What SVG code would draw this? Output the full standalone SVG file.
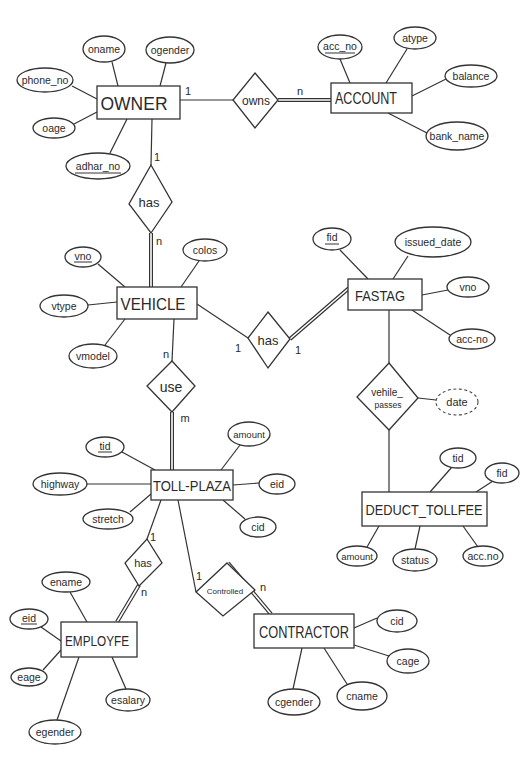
<svg xmlns="http://www.w3.org/2000/svg" width="525" height="777" viewBox="0 0 525 777">
<style>
text{font-family:"Liberation Sans",Arial,sans-serif;fill:#2a2a2a}
.ent rect{fill:#fff;stroke:#333;stroke-width:1.3}
.ent text{font-size:15px;text-anchor:middle;dominant-baseline:central}
.att ellipse{fill:#fff;stroke:#333;stroke-width:1.3}
.att text{font-size:10.5px;text-anchor:middle;dominant-baseline:central}
.der ellipse{fill:#fff;stroke:#444;stroke-width:1.1;stroke-dasharray:3 2.5}
.der text{font-size:11px;text-anchor:middle;dominant-baseline:central}
.rel polygon{fill:#fff;stroke:#333;stroke-width:1.3}
.rel text{font-size:12.5px;text-anchor:middle;dominant-baseline:central}
.ln{stroke:#333;stroke-width:1.2;fill:none}
.dbo{stroke:#333;stroke-width:4;fill:none}
.dbi{stroke:#fff;stroke-width:1.6;fill:none}
.card{font-size:11px;text-anchor:middle}
.ul{stroke:#333;stroke-width:1}
</style>
<rect width="525" height="777" fill="#fff"/>

<g id="connectors">
  <!-- OWNER attributes -->
  <line class="ln" x1="112" y1="62" x2="118" y2="86"/>
  <line class="ln" x1="166" y1="63" x2="160" y2="86"/>
  <line class="ln" x1="72" y1="86" x2="97" y2="99"/>
  <line class="ln" x1="74" y1="124" x2="97" y2="112"/>
  <line class="ln" x1="110" y1="153" x2="127" y2="119"/>
  <!-- OWNER - owns - ACCOUNT -->
  <line class="ln" x1="180" y1="100" x2="233" y2="100"/>
  <line class="dbo" x1="278" y1="100" x2="331" y2="100"/>
  <line class="dbi" x1="278" y1="100" x2="331" y2="100"/>
  <!-- ACCOUNT attributes -->
  <line class="ln" x1="340" y1="59" x2="350" y2="83"/>
  <line class="ln" x1="407" y1="49" x2="386" y2="83"/>
  <line class="ln" x1="446" y1="79" x2="412" y2="96"/>
  <line class="ln" x1="427" y1="133" x2="388" y2="113"/>
  <!-- OWNER - has - VEHICLE -->
  <line class="ln" x1="152" y1="119" x2="151" y2="165"/>
  <line class="dbo" x1="151" y1="233" x2="151" y2="287"/>
  <line class="dbi" x1="151" y1="233" x2="151" y2="287"/>
  <!-- VEHICLE attributes -->
  <line class="ln" x1="98" y1="264" x2="125" y2="287"/>
  <line class="ln" x1="199" y1="261" x2="181" y2="287"/>
  <line class="ln" x1="88" y1="305" x2="117" y2="302"/>
  <line class="ln" x1="105" y1="345" x2="125" y2="319"/>
  <!-- VEHICLE - has - FASTAG -->
  <line class="ln" x1="197" y1="304" x2="248" y2="338"/>
  <line class="dbo" x1="290" y1="339" x2="349" y2="288"/>
  <line class="dbi" x1="290" y1="339" x2="349" y2="288"/>
  <!-- FASTAG attributes -->
  <line class="ln" x1="340" y1="250" x2="368" y2="279"/>
  <line class="ln" x1="408" y1="256" x2="393" y2="279"/>
  <line class="ln" x1="448" y1="290" x2="422" y2="295"/>
  <line class="ln" x1="450" y1="335" x2="412" y2="310"/>
  <!-- FASTAG - vehile_passes - DEDUCT_TOLLFEE -->
  <line class="ln" x1="389" y1="310" x2="389" y2="363"/>
  <line class="ln" x1="418" y1="398" x2="436" y2="400"/>
  <line class="ln" x1="389" y1="430" x2="389" y2="492"/>
  <!-- DEDUCT_TOLLFEE attributes -->
  <line class="ln" x1="452" y1="467" x2="430" y2="492"/>
  <line class="ln" x1="493" y1="481" x2="476" y2="492"/>
  <line class="ln" x1="367" y1="547" x2="379" y2="526"/>
  <line class="ln" x1="415" y1="549" x2="420" y2="526"/>
  <line class="ln" x1="478" y1="547" x2="463" y2="526"/>
  <!-- VEHICLE - use - TOLL-PLAZA -->
  <line class="ln" x1="174" y1="319" x2="172" y2="361"/>
  <line class="dbo" x1="172" y1="412" x2="172" y2="470"/>
  <line class="dbi" x1="172" y1="412" x2="172" y2="470"/>
  <!-- TOLL-PLAZA attributes -->
  <line class="ln" x1="122" y1="452" x2="155" y2="470"/>
  <line class="ln" x1="240" y1="445" x2="221" y2="470"/>
  <line class="ln" x1="87" y1="484" x2="151" y2="484"/>
  <line class="ln" x1="259" y1="483" x2="233" y2="485"/>
  <line class="ln" x1="130" y1="512" x2="151" y2="494"/>
  <line class="ln" x1="245" y1="519" x2="223" y2="500"/>
  <!-- TOLL-PLAZA - has - EMPLOYEE -->
  <line class="ln" x1="161" y1="500" x2="147" y2="539"/>
  <line class="dbo" x1="139" y1="585" x2="117" y2="622"/>
  <line class="dbi" x1="139" y1="585" x2="117" y2="622"/>
  <!-- EMPLOYEE attributes -->
  <line class="ln" x1="70" y1="592" x2="87" y2="622"/>
  <line class="ln" x1="41" y1="627" x2="61" y2="641"/>
  <line class="ln" x1="43" y1="670" x2="61" y2="650"/>
  <line class="ln" x1="126" y1="689" x2="112" y2="657"/>
  <line class="ln" x1="57" y1="720" x2="79" y2="657"/>
  <!-- TOLL-PLAZA - Controlled - CONTRACTOR -->
  <line class="ln" x1="178" y1="500" x2="196" y2="592"/>
  <line class="dbo" x1="228" y1="563" x2="271" y2="614"/>
  <line class="dbi" x1="228" y1="563" x2="271" y2="614"/>
  <!-- CONTRACTOR attributes -->
  <line class="ln" x1="377" y1="618" x2="354" y2="628"/>
  <line class="ln" x1="389" y1="656" x2="354" y2="645"/>
  <line class="ln" x1="293" y1="689" x2="302" y2="648"/>
  <line class="ln" x1="347" y1="684" x2="324" y2="648"/>
  <!-- cardinalities -->
  <text class="card" x="188" y="95">1</text>
  <text class="card" x="300" y="95">n</text>
  <text class="card" x="157" y="161">1</text>
  <text class="card" x="159" y="245">n</text>
  <text class="card" x="238" y="352">1</text>
  <text class="card" x="298" y="354">1</text>
  <text class="card" x="166" y="358">n</text>
  <text class="card" x="185" y="422">m</text>
  <text class="card" x="153" y="541">1</text>
  <text class="card" x="144" y="596">n</text>
  <text class="card" x="199" y="580">1</text>
  <text class="card" x="263" y="591">n</text>
</g>

<!-- Entities -->
<g id="OWNER" class="ent"><rect x="97" y="86" width="83" height="33"/><text x="134" y="103" style="font-size:19px" textLength="67" lengthAdjust="spacingAndGlyphs">OWNER</text></g>
<g id="ACCOUNT" class="ent"><rect x="331" y="83" width="81" height="30"/><text x="366" y="98" style="font-size:16px" textLength="62" lengthAdjust="spacingAndGlyphs">ACCOUNT</text></g>
<g id="VEHICLE" class="ent"><rect x="117" y="287" width="80" height="32"/><text x="153" y="304" style="font-size:17px" textLength="65" lengthAdjust="spacingAndGlyphs">VEHICLE</text></g>
<g id="FASTAG" class="ent"><rect x="348" y="279" width="74" height="31"/><text x="380" y="295" style="font-size:15px" textLength="50" lengthAdjust="spacingAndGlyphs">FASTAG</text></g>
<g id="DEDUCT_TOLLFEE" class="ent"><rect x="362" y="492" width="125" height="34"/><text x="424" y="509" style="font-size:15px" textLength="117" lengthAdjust="spacingAndGlyphs">DEDUCT_TOLLFEE</text></g>
<g id="TOLL-PLAZA" class="ent"><rect x="151" y="470" width="82" height="30"/><text x="192" y="486" style="font-size:14px" textLength="78" lengthAdjust="spacingAndGlyphs">TOLL-PLAZA</text></g>
<g id="EMPLOYEE" class="ent"><rect x="61" y="622" width="76" height="35"/><text x="97" y="640" style="font-size:15px" textLength="64" lengthAdjust="spacingAndGlyphs">EMPLOYFE</text></g>
<g id="CONTRACTOR" class="ent"><rect x="254" y="614" width="100" height="34"/><text x="304" y="632" style="font-size:17px" textLength="90" lengthAdjust="spacingAndGlyphs">CONTRACTOR</text></g>

<!-- Relationships -->
<g id="rel_owns" class="rel"><polygon points="255,73 278,100 255,128 233,100"/><text x="256" y="101" style="font-size:12px">owns</text></g>
<g id="rel_has_owner_vehicle" class="rel"><polygon points="151,165 172,202 151,233 129,204"/><text x="149" y="202" style="font-size:13px">has</text></g>
<g id="rel_has_vehicle_fastag" class="rel"><polygon points="268,312 290,339 268,368 248,338"/><text x="268" y="340" style="font-size:13px">has</text></g>
<g id="rel_use" class="rel"><polygon points="172,361 195,386 172,412 147,386"/><text x="171" y="387" style="font-size:14px">use</text></g>
<g id="rel_vehile_passes" class="rel"><polygon points="389,363 418,398 389,430 357,397"/><text x="387" y="392" style="font-size:10px">vehile_</text><text x="388" y="405" style="font-size:8.5px">passes</text></g>
<g id="rel_has_toll_employee" class="rel"><polygon points="147,539 162,563 139,586 125,563"/><text x="143" y="563" style="font-size:11px">has</text></g>
<g id="rel_controlled" class="rel"><polygon points="227,563 255,590 223,616 196,592"/><text x="225" y="591" style="font-size:8px">Controlled</text></g>

<!-- Attributes: OWNER -->
<g id="att_oname" class="att"><ellipse cx="104" cy="49" rx="21" ry="13"/><text x="104" y="49">oname</text></g>
<g id="att_ogender" class="att"><ellipse cx="170" cy="50" rx="24" ry="13"/><text x="170" y="50">ogender</text></g>
<g id="att_phone_no" class="att"><ellipse cx="45" cy="80" rx="28" ry="12"/><text x="45" y="80">phone_no</text></g>
<g id="att_oage" class="att"><ellipse cx="54" cy="128" rx="21" ry="10"/><text x="54" y="128">oage</text></g>
<g id="att_adhar_no" class="att"><ellipse cx="98" cy="166" rx="32" ry="13"/><text x="98" y="166">adhar_no</text><line class="ul" x1="75" y1="173" x2="121" y2="173"/></g>
<!-- Attributes: ACCOUNT -->
<g id="att_acc_no" class="att"><ellipse cx="340" cy="47" rx="22" ry="12"/><text x="340" y="46">acc_no</text><line class="ul" x1="325" y1="53" x2="355" y2="53"/></g>
<g id="att_atype" class="att"><ellipse cx="415" cy="38" rx="21" ry="11"/><text x="415" y="38">atype</text></g>
<g id="att_balance" class="att"><ellipse cx="471" cy="76" rx="26" ry="11"/><text x="471" y="76">balance</text></g>
<g id="att_bank_name" class="att"><ellipse cx="457" cy="136" rx="31" ry="14"/><text x="457" y="136">bank_name</text></g>
<!-- Attributes: VEHICLE -->
<g id="att_vno" class="att"><ellipse cx="83" cy="257" rx="18" ry="10"/><text x="83" y="256">vno</text><line class="ul" x1="74" y1="262" x2="92" y2="262"/></g>
<g id="att_colos" class="att"><ellipse cx="205" cy="250" rx="22" ry="11"/><text x="205" y="250">colos</text></g>
<g id="att_vtype" class="att"><ellipse cx="64" cy="306" rx="24" ry="11"/><text x="64" y="306">vtype</text></g>
<g id="att_vmodel" class="att"><ellipse cx="93" cy="356" rx="24" ry="12"/><text x="93" y="356">vmodel</text></g>
<!-- Attributes: FASTAG -->
<g id="att_fid" class="att"><ellipse cx="332" cy="239" rx="19" ry="11"/><text x="332" y="237">fid</text><line class="ul" x1="325" y1="244" x2="339" y2="244"/></g>
<g id="att_issued_date" class="att"><ellipse cx="433" cy="242" rx="38" ry="15"/><text x="433" y="242">issued_date</text></g>
<g id="att_fastag_vno" class="att"><ellipse cx="468" cy="287" rx="21" ry="10"/><text x="468" y="287">vno</text></g>
<g id="att_fastag_acc_no" class="att"><ellipse cx="472" cy="339" rx="23" ry="10"/><text x="472" y="339">acc-no</text></g>
<!-- Derived/dashed -->
<g id="att_date" class="der"><ellipse cx="457" cy="402" rx="21" ry="13"/><text x="457" y="402">date</text></g>
<!-- Attributes: DEDUCT_TOLLFEE -->
<g id="att_d_tid" class="att"><ellipse cx="458" cy="458" rx="18" ry="10"/><text x="458" y="458">tid</text></g>
<g id="att_d_fid" class="att"><ellipse cx="502" cy="473" rx="17" ry="10"/><text x="502" y="473">fid</text></g>
<g id="att_d_amount" class="att"><ellipse cx="357" cy="556" rx="20" ry="10"/><text x="357" y="556" style="font-size:9.5px">amount</text></g>
<g id="att_status" class="att"><ellipse cx="415" cy="560" rx="22" ry="11"/><text x="415" y="560">status</text></g>
<g id="att_d_acc_no" class="att"><ellipse cx="483" cy="556" rx="20" ry="10"/><text x="483" y="556">acc.no</text></g>
<!-- Attributes: TOLL-PLAZA -->
<g id="att_tid" class="att"><ellipse cx="105" cy="447" rx="19" ry="10"/><text x="105" y="446">tid</text><line class="ul" x1="98" y1="452" x2="112" y2="452"/></g>
<g id="att_amount" class="att"><ellipse cx="249" cy="434" rx="21" ry="12"/><text x="249" y="434" style="font-size:9.5px">amount</text></g>
<g id="att_highway" class="att"><ellipse cx="60" cy="484" rx="27" ry="11"/><text x="60" y="484">highway</text></g>
<g id="att_t_eid" class="att"><ellipse cx="277" cy="484" rx="18" ry="10"/><text x="277" y="484">eid</text></g>
<g id="att_stretch" class="att"><ellipse cx="108" cy="519" rx="25" ry="10"/><text x="108" y="519">stretch</text></g>
<g id="att_t_cid" class="att"><ellipse cx="258" cy="527" rx="18" ry="10"/><text x="258" y="527">cid</text></g>
<!-- Attributes: EMPLOYEE -->
<g id="att_ename" class="att"><ellipse cx="66" cy="582" rx="24" ry="10"/><text x="66" y="582">ename</text></g>
<g id="att_eid" class="att"><ellipse cx="29" cy="619" rx="19" ry="10"/><text x="29" y="618">eid</text><line class="ul" x1="21" y1="624" x2="37" y2="624"/></g>
<g id="att_eage" class="att"><ellipse cx="29" cy="677" rx="18" ry="9"/><text x="29" y="677">eage</text></g>
<g id="att_esalary" class="att"><ellipse cx="128" cy="700" rx="22" ry="11"/><text x="128" y="700">esalary</text></g>
<g id="att_egender" class="att"><ellipse cx="55" cy="732" rx="26" ry="12"/><text x="55" y="732">egender</text></g>
<!-- Attributes: CONTRACTOR -->
<g id="att_cid" class="att"><ellipse cx="397" cy="621" rx="20" ry="11"/><text x="397" y="621">cid</text></g>
<g id="att_cage" class="att"><ellipse cx="408" cy="661" rx="21" ry="12"/><text x="408" y="661">cage</text></g>
<g id="att_cgender" class="att"><ellipse cx="294" cy="702" rx="26" ry="13"/><text x="294" y="702">cgender</text></g>
<g id="att_cname" class="att"><ellipse cx="362" cy="696" rx="25" ry="14"/><text x="362" y="696">cname</text></g>
</svg>
